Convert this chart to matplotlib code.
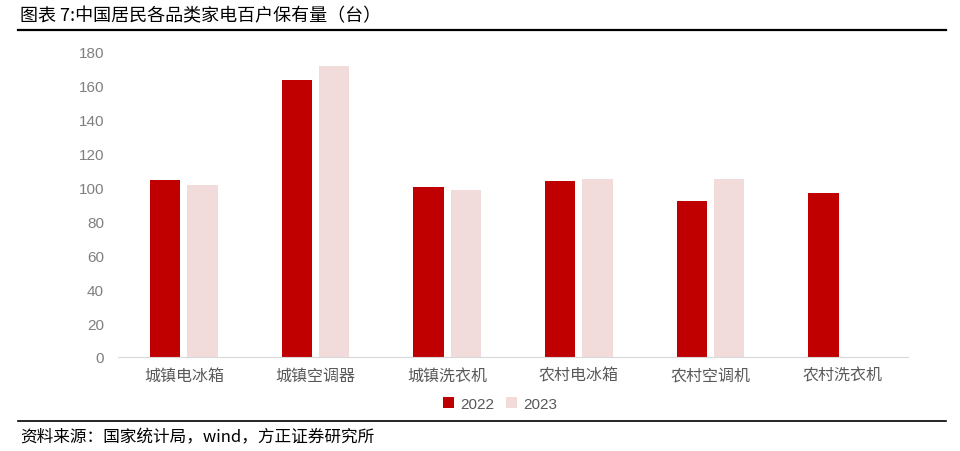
import numpy as np
import matplotlib.pyplot as plt
from matplotlib.lines import Line2D

plt.rcParams['font.family'] = ['Noto Sans CJK SC', 'DejaVu Sans']

categories = ['城镇电冰箱', '城镇空调器', '城镇洗衣机', '农村电冰箱', '农村空调机', '农村洗衣机']
v2022 = [104.0, 163.0, 100.0, 103.4, 91.8, 96.4]
v2023 = [101.3, 171.3, 98.0, 105.0, 105.0, np.nan]
series_names = ['2022', '2023']

fig = plt.figure(figsize=(9.6, 4.52), dpi=100)
ax = fig.add_axes([118/960, 1-358/452, 790/960, 306/452])

x = np.arange(len(categories))
w = 0.23
ax.bar(x - 0.142, v2022, w, color='#C00000', label=series_names[0])
ax.bar(x + 0.142, v2023, w, color='#F2DCDB', label=series_names[1])

ax.set_xlim(-0.5, len(categories) - 0.5)
ax.set_ylim(0, 180)
ax.set_yticks(range(0, 181, 20))
ax.set_xticks(x)
ax.set_xticklabels(categories, fontsize=11.5, color='#595959')
ax.tick_params(axis='y', labelsize=11, colors='#7f7f7f', length=0, pad=10)
for lab in ax.get_yticklabels():
    lab.set_family(['Liberation Sans', 'DejaVu Sans'])
ax.tick_params(axis='x', length=0, pad=7)
for s in ['top', 'right', 'left']:
    ax.spines[s].set_visible(False)
ax.spines['bottom'].set_color('#d9d9d9')

leg = ax.legend(loc='center', bbox_to_anchor=(500/960, 1-405/452), bbox_transform=fig.transFigure,
                ncol=2, frameon=False, fontsize=11, labelcolor='#595959',
                handlelength=0.7, handleheight=0.7, handletextpad=0.4, columnspacing=0.8)
for t in leg.get_texts():
    t.set_family(['Liberation Sans', 'DejaVu Sans'])

fig.text(20/960, 1-16/452, '图表 7:中国居民各品类家电百户保有量（台）', fontsize=13,
         va='center', ha='left', color='#000000')
fig.add_artist(Line2D([18/960, 946/960], [1-31/452, 1-31/452], color='black', lw=1.6,
                      transform=fig.transFigure))
fig.add_artist(Line2D([18/960, 946/960], [1-422/452, 1-422/452], color='black', lw=1.2,
                      transform=fig.transFigure))
fig.text(20/960, 1-438/452, '资料来源：国家统计局，wind，方正证券研究所', fontsize=12,
         va='center', ha='left', color='#000000', style='italic')

fig.savefig('out.png', dpi=100)
